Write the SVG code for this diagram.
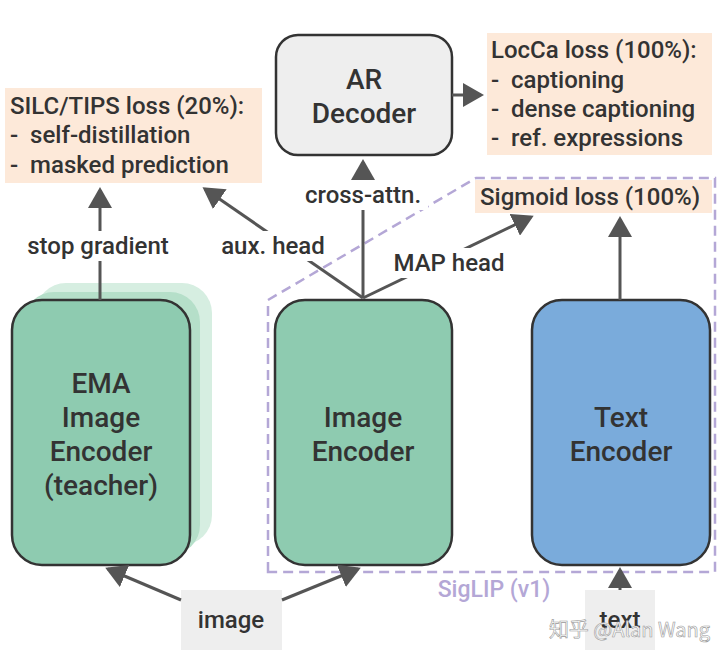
<svg xmlns="http://www.w3.org/2000/svg" width="726" height="662" viewBox="0 0 726 662">
<defs>
<marker id="ah" markerWidth="8" markerHeight="8" refX="6" refY="4" orient="auto" markerUnits="strokeWidth"><path d="M0,0 L7,4 L0,8 z" fill="#555"/></marker>
<style>
text{font-family:Roboto,"Liberation Sans",sans-serif;fill:#333;font-weight:500}
.enc{stroke:#333;stroke-width:2.5}
.lbl{font-size:24px}
.big{font-size:28px;text-anchor:middle}
.c{stroke:#555;stroke-width:3;fill:none;marker-end:url(#ah)}
.note{fill:#fde9d9}
</style>
</defs>
<rect width="726" height="662" fill="#fff"/>
<g id="siglip">
<path d="M268,572 L268,300 L476,178 L715,178 L715,572 Z" fill="none" stroke="#b4a7d6" stroke-width="2.5" stroke-dasharray="10,6"/>
<text x="494" y="597" text-anchor="middle" style="font-size:23px;fill:#b4a7d6">SigLIP (v1)</text>
</g>
<g id="ema">
<rect x="36" y="283" width="176" height="262" rx="30" fill="#d6eee1"/>
<rect x="24" y="292" width="176" height="263" rx="30" fill="#b5dfc9"/>
<rect x="12" y="300" width="178" height="265" rx="30" fill="#8ecbb0" class="enc"/>
<text class="big" x="101" y="393">EMA</text><text class="big" x="101" y="427">Image</text><text class="big" x="101" y="461">Encoder</text><text class="big" x="101" y="495">(teacher)</text>
</g>
<g id="imgenc"><rect x="275" y="300" width="177" height="265" rx="30" fill="#8ecbb0" class="enc"/>
<text class="big" x="363" y="427">Image</text><text class="big" x="363" y="461">Encoder</text></g>
<g id="txtenc"><rect x="532" y="300" width="178" height="265" rx="30" fill="#7aabdb" class="enc"/>
<text class="big" x="621" y="427">Text</text><text class="big" x="621" y="461">Encoder</text></g>
<g id="ar"><rect x="276" y="35" width="176" height="120" rx="22" fill="#eeeeee" class="enc"/>
<text class="big" x="364" y="89">AR</text><text class="big" x="364" y="123">Decoder</text></g>
<g id="silc"><rect x="5" y="88" width="257" height="95" class="note"/>
<text class="lbl" x="10" y="114">SILC/TIPS loss (20%):</text>
<text class="lbl" x="10" y="143" xml:space="preserve">-  self-distillation</text>
<text class="lbl" x="10" y="173" xml:space="preserve">-  masked prediction</text></g>
<g id="locca"><rect x="487" y="33" width="225" height="122" class="note"/>
<text class="lbl" x="491" y="58">LocCa loss (100%):</text>
<text class="lbl" x="491" y="88" xml:space="preserve">-  captioning</text>
<text class="lbl" x="491" y="117" xml:space="preserve">-  dense captioning</text>
<text class="lbl" x="491" y="146" xml:space="preserve">-  ref. expressions</text></g>
<g id="sigmoid"><rect x="475" y="180" width="237" height="33" class="note"/>
<text class="lbl" x="480" y="205">Sigmoid loss (100%)</text></g>
<g id="image"><rect x="181" y="590" width="101" height="60" fill="#eeeeee"/><text class="lbl" x="231" y="628" text-anchor="middle">image</text></g>
<g id="text"><rect x="585" y="590" width="70" height="60" fill="#eeeeee"/><text class="lbl" x="620" y="628" text-anchor="middle">text</text></g>
<g id="connectors">
<line class="c" x1="181" y1="600" x2="108" y2="569"/>
<line class="c" x1="282" y1="600" x2="358" y2="569"/>
<line class="c" x1="620" y1="590" x2="620" y2="570"/>
<line class="c" x1="100" y1="300" x2="100" y2="190"/>
<line class="c" x1="363" y1="298" x2="363" y2="162"/>
<line class="c" x1="363" y1="298" x2="205" y2="189"/>
<line class="c" x1="363" y1="298" x2="531" y2="217"/>
<line class="c" x1="620" y1="300" x2="620" y2="219"/>
<line class="c" x1="452" y1="95" x2="481" y2="95"/>
<rect x="20" y="231" width="156" height="30" fill="#fff"/><text class="lbl" x="98" y="254" text-anchor="middle">stop gradient</text>
<rect x="216" y="231" width="114" height="30" fill="#fff"/><text class="lbl" x="273" y="254" text-anchor="middle">aux. head</text>
<rect x="298" y="180" width="130" height="30" fill="#fff"/><text class="lbl" x="363" y="203" text-anchor="middle">cross-attn.</text>
<rect x="388" y="248" width="124" height="30" fill="#fff"/><text class="lbl" x="449" y="271" text-anchor="middle">MAP head</text>
</g>
<text x="710" y="637" text-anchor="end" style="font-size:20px;fill:#fff;stroke:#999;stroke-width:0.6;font-weight:400;font-family:'Noto Sans CJK SC',sans-serif">知乎 @Alan Wang</text>
</svg>
